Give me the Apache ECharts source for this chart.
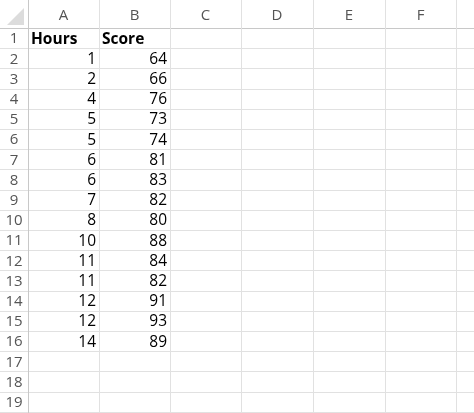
<!DOCTYPE html>
<html><head><meta charset="utf-8">
<script src="https://cdn.jsdelivr.net/npm/echarts@6/dist/echarts.min.js"></script>
<style>html,body{margin:0;padding:0;background:#fff}#c{width:474px;height:413px}</style>
</head><body><div id="c"></div>
<script>
const columnLetters = ['A','B','C','D','E','F'];
const headers = ['Hours','Score'];
const hours = [1,2,4,5,5,6,6,7,8,10,11,11,12,12,14];
const scores = [64,66,76,73,74,81,83,82,80,88,84,82,91,93,89];
const rowCount = 19;

const chart = echarts.init(document.getElementById('c'), null, {renderer:'canvas'});
const colX = [28,99,170,241,313,385,456,528];
const headH = 28, rowH = 20.2;
const font = '"Open Sans","Noto Sans",sans-serif';
const els = [];
els.push({type:'rect', shape:{x:0,y:0,width:474,height:headH}, style:{fill:'#fff'}});
els.push({type:'polygon', shape:{points:[[24,8],[24,25],[7,25]]}, style:{fill:'#dcdcdc'}});
for (let r=0;r<=rowCount;r++){
  const y = Math.round(headH + r*rowH)+0.5;
  els.push({type:'line', shape:{x1:0,y1:y,x2:474,y2:y}, style:{stroke: r===0?'#c8c8c8':'#e1e1e1', lineWidth:1}});
}
colX.forEach((x,i)=>{
  els.push({type:'line', shape:{x1:x+0.5,y1:0,x2:x+0.5,y2:413}, style:{stroke: i===0?'#c8c8c8':'#e1e1e1', lineWidth:1}});
});
columnLetters.forEach((L,i)=>{
  els.push({type:'text', x:(colX[i]+colX[i+1])/2, y:headH/2+2, style:{text:L, fill:'#555', font:'15px '+font, align:'center', verticalAlign:'middle'}});
});
for (let r=1;r<=rowCount;r++){
  els.push({type:'text', x:14, y:headH+(r-0.5)*rowH+1, style:{text:String(r), fill:'#555', font:'15px '+font, align:'center', verticalAlign:'middle'}});
}
headers.forEach((h,i)=>{
  els.push({type:'text', x:colX[i]+3, y:headH+0.5*rowH+1, style:{text:h, fill:'#000', font:'bold 15.5px '+font, align:'left', verticalAlign:'middle'}});
});
[hours, scores].forEach((arr,c)=>{
  arr.forEach((v,i)=>{
    els.push({type:'text', x:colX[c+1]-3, y:headH+(i+1.5)*rowH+1, style:{text:String(v), fill:'#000', font:'15.5px '+font, align:'right', verticalAlign:'middle'}});
  });
});
chart.setOption({animation:false, graphic:{elements:els}});
</script></body></html>
